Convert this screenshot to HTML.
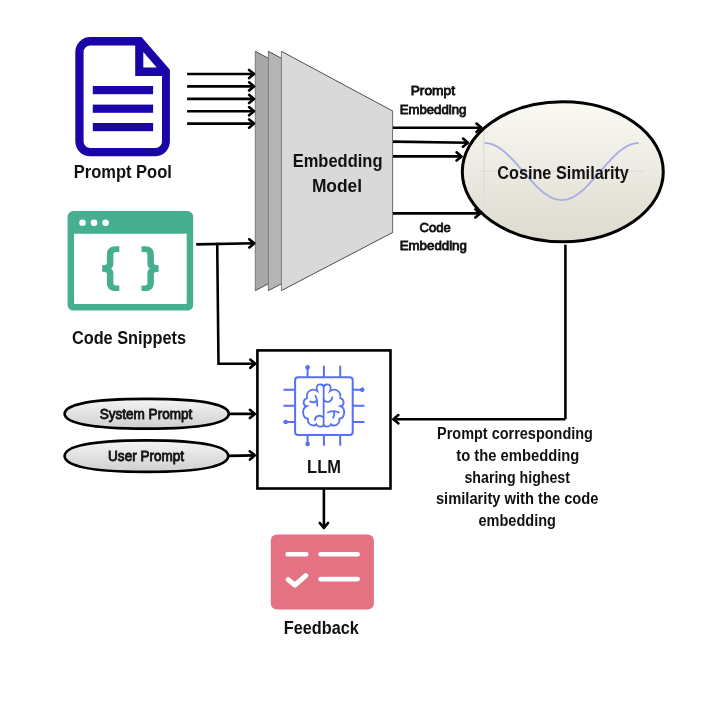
<!DOCTYPE html>
<html><head><meta charset="utf-8">
<style>
html,body{margin:0;padding:0;background:#fff;width:705px;height:721px;overflow:hidden}
svg{display:block;will-change:transform}
text{font-family:"Liberation Sans",sans-serif;font-weight:bold;fill:#111}
text.r{font-weight:normal;stroke:#111;stroke-width:0.85px}
</style></head><body>
<svg width="705" height="721" viewBox="0 0 705 721">
<defs>
<linearGradient id="ell" x1="0" y1="0" x2="0" y2="1">
<stop offset="0" stop-color="#faf9f3"/><stop offset="1" stop-color="#dddacf"/>
</linearGradient>
<linearGradient id="pill" x1="0" y1="0" x2="0" y2="1">
<stop offset="0" stop-color="#f4f4f4"/><stop offset="1" stop-color="#cfcfcf"/>
</linearGradient>
<clipPath id="ellclip"><ellipse cx="562.8" cy="171.75" rx="100.5" ry="70"/></clipPath>
<path id="brace" d="M119.3 246.2 L115.5 246.2 C110 246.2 106.9 249.2 106.9 254.5 L106.9 262.8 C106.9 264.6 105.6 265.3 102.2 265.3 L102.2 271.8 C105.6 271.8 106.9 272.5 106.9 274.3 L106.9 282.8 C106.9 288.1 110 291.1 115.5 291.1 L119.3 291.1 L119.3 285.4 L116 285.4 C114.2 285.4 113.4 284.6 113.4 282.8 L113.4 273.8 C113.4 271 112.4 269.6 110.9 268.6 C112.4 267.6 113.4 266.2 113.4 263.4 L113.4 254.5 C113.4 252.7 114.2 251.9 116 251.9 L119.3 251.9 Z"/>
</defs>

<!-- Document icon -->
<path fill="#1a05a8" fill-rule="evenodd" d="
M75.3 52 A15 15 0 0 1 90.3 37 L141.5 37 L169.9 69.8 L169.9 141.3 A15 15 0 0 1 154.9 156.3 L90.3 156.3 A15 15 0 0 1 75.3 141.3 Z
M83.6 52.1 A6.5 6.5 0 0 1 90.1 45.6 L135.2 45.6 L135.2 76 L162 76 L162 141.5 A6.5 6.5 0 0 1 155.5 148 L90.1 148 A6.5 6.5 0 0 1 83.6 141.5 Z
M143.3 51.9 L143.3 67.4 L156.7 67.4 Z"/>
<rect x="92.8" y="86" width="60.3" height="8.2" fill="#1a05a8"/>
<rect x="92.8" y="104.6" width="60.3" height="8.2" fill="#1a05a8"/>
<rect x="92.8" y="123" width="60.3" height="8.2" fill="#1a05a8"/>

<!-- arrows from doc -->

<!-- Embedding model layers -->
<path fill="#a8a8a8" d="M255.3 51.3 L366.9 111.2 L366.9 232.3 L255.3 290.6 Z"/>
<path fill="none" stroke="#7a7a7a" stroke-width="1" d="M255.3 51.3 V290.6"/>
<path fill="none" stroke="#3c3c3c" stroke-width="0.9" d="M255.3 51.3 L366.9 111.2 M255.3 290.6 L366.9 232.3"/>
<path fill="#b5b5b5" d="M268.4 51.3 L380 111.2 L380 232.3 L268.4 290.6 Z"/>
<path fill="none" stroke="#7a7a7a" stroke-width="1" d="M268.4 51.3 V290.6"/>
<path fill="none" stroke="#3c3c3c" stroke-width="0.9" d="M268.4 51.3 L380 111.2 M268.4 290.6 L380 232.3"/>
<path fill="#d9d9d9" d="M281.4 51.3 L393 111.2 L393 232.3 L281.4 290.6 Z"/>
<path fill="none" stroke="#7a7a7a" stroke-width="1" d="M281.4 51.3 V290.6"/>
<path fill="none" stroke="#3c3c3c" stroke-width="0.9" d="M281.4 51.3 L393 111.2 M281.4 290.6 L393 232.3"/>
<path fill="none" stroke="#6a6a6a" stroke-width="1" d="M392.6 111.2 V232.3"/>


<!-- Cosine similarity ellipse -->
<ellipse cx="562.8" cy="171.75" rx="100.5" ry="70" fill="url(#ell)"/>
<g stroke="#dcdad3" stroke-width="1" fill="none" clip-path="url(#ellclip)">
<path d="M483.8 100V245 M478.4 171.3H645"/>
</g>
<polyline points="484.70,143.05 486.62,143.14 488.55,143.40 490.47,143.84 492.40,144.44 494.32,145.22 496.25,146.16 498.18,147.25 500.10,148.49 502.02,149.88 503.95,151.40 505.88,153.04 507.80,154.80 509.73,156.66 511.65,158.61 513.58,160.64 515.50,162.74 517.42,164.90 519.35,167.09 521.27,169.31 523.20,171.55 525.12,173.79 527.05,176.01 528.98,178.20 530.90,180.36 532.83,182.46 534.75,184.49 536.67,186.44 538.60,188.30 540.52,190.06 542.45,191.70 544.38,193.22 546.30,194.61 548.23,195.85 550.15,196.94 552.08,197.88 554.00,198.66 555.92,199.26 557.85,199.70 559.77,199.96 561.70,200.05 563.62,199.96 565.55,199.70 567.48,199.26 569.40,198.66 571.33,197.88 573.25,196.94 575.18,195.85 577.10,194.61 579.02,193.22 580.95,191.70 582.88,190.06 584.80,188.30 586.73,186.44 588.65,184.49 590.58,182.46 592.50,180.36 594.43,178.20 596.35,176.01 598.28,173.79 600.20,171.55 602.12,169.31 604.05,167.09 605.98,164.90 607.90,162.74 609.83,160.64 611.75,158.61 613.68,156.66 615.60,154.80 617.53,153.04 619.45,151.40 621.38,149.88 623.30,148.49 625.23,147.25 627.15,146.16 629.08,145.22 631.00,144.44 632.93,143.84 634.85,143.40 636.78,143.14 638.70,143.05" stroke="#a7abe6" stroke-width="1.8" fill="none"/>
<ellipse cx="562.8" cy="171.75" rx="100.5" ry="70" fill="none" stroke="#000" stroke-width="3"/>

<!-- Code snippets icon -->
<path fill="#45af8f" fill-rule="evenodd" d="M73.3 211.1 H187.5 A5.7 5.7 0 0 1 193.2 216.8 V304.9 A5.7 5.7 0 0 1 187.5 310.6 H73.3 A5.7 5.7 0 0 1 67.6 304.9 V216.8 A5.7 5.7 0 0 1 73.3 211.1 Z M74.1 233.8 V303 A1 1 0 0 0 75.1 304 H185.7 A1 1 0 0 0 186.7 303 V233.8 Z"/>
<g fill="#fff">
<circle cx="82.5" cy="222.7" r="3.3"/><circle cx="94" cy="222.7" r="3.3"/><circle cx="105.6" cy="222.7" r="3.3"/>
</g>
<g fill="#45af8f">
<use href="#brace"/>
<use href="#brace" transform="translate(260.8,0) scale(-1,1)"/>
</g>


<path d="M217.2 242.8L218.5 363.7H220" stroke="#000" stroke-width="2.6" fill="none"/>
<!-- LLM box -->
<rect x="257.4" y="350.4" width="133.1" height="138.1" fill="#fff" stroke="#000" stroke-width="2.6"/>
<g stroke="#5570f5" stroke-width="2" fill="none" stroke-linecap="butt">
<rect x="295.1" y="377.3" width="57.6" height="57.7" rx="3"/>
<path d="M307.6 367.4V377.3 M323.9 365.7V377.3 M340.2 365.7V377.3 M307.6 434.3V444 M323.9 434.3V445.8 M340.2 434.3V445.8 M283.5 389.8H295.1 M283.5 405.8H295.1 M285.6 422H295.1 M352.7 389.8H362.2 M352.7 405.8H364.4 M352.7 422H364.4"/>
</g>
<g fill="#5570f5">
<circle cx="307.6" cy="367.4" r="2.3"/><circle cx="307.6" cy="444" r="2.3"/><circle cx="285.6" cy="422" r="2.3"/><circle cx="362.2" cy="389.8" r="2.3"/>
</g>
<!-- brain -->
<g stroke="#5570f5" stroke-width="1.8" fill="none" stroke-linecap="round">
<path d="M 323.66 387.37 C 323.66 384.42 318.50 383.10 317.03 386.05 C 316.44 387.37 316.58 389.44 317.32 391.06 C 312.75 388.11 305.96 390.32 307.00 398.07 C 302.57 399.54 302.57 405.44 306.85 406.18 C 301.10 408.76 302.57 418.35 307.96 418.72 C 306.85 424.25 313.49 427.20 316.44 424.25 C 318.06 427.79 323.66 427.20 323.66 424.25 M 323.66 387.37 C 323.66 384.42 328.83 383.10 330.30 386.05 C 330.89 387.37 330.74 389.44 330.01 391.06 C 334.58 388.11 341.36 390.32 340.33 398.07 C 344.76 399.54 344.76 405.44 340.48 406.18 C 346.23 408.76 344.76 418.35 339.37 418.72 C 340.48 424.25 333.84 427.20 330.89 424.25 C 329.27 427.79 323.66 427.20 323.66 424.25 M 315.33 395.86 C 317.32 397.70 317.03 402.12 317.32 405.81 M 310.17 401.39 C 312.01 402.49 314.96 402.49 316.58 401.02 M 315.11 420.19 C 314.59 416.14 319.39 414.29 323.07 417.24 M 324.18 399.91 C 326.02 402.86 331.19 402.86 332.29 397.33 M 327.87 412.45 C 330.45 410.60 336.35 410.60 338.93 412.45 M 334.14 411.86 C 334.50 413.92 334.14 416.14 333.25 417.76 M 323.66 387.37 L 323.66 424.25"/>
</g>

<!-- prompt pills -->
<path d="M146.70 398.95C212.34 398.95 228.75 406.38 228.75 413.80C228.75 421.23 212.34 428.65 146.70 428.65C81.06 428.65 64.65 421.23 64.65 413.80C64.65 406.38 81.06 398.95 146.70 398.95Z" fill="url(#pill)" stroke="#000" stroke-width="2.7"/><path d="M146.45 440.30C211.89 440.30 228.25 448.20 228.25 456.10C228.25 464.00 211.89 471.90 146.45 471.90C81.01 471.90 64.65 464.00 64.65 456.10C64.65 448.20 81.01 440.30 146.45 440.30Z" fill="url(#pill)" stroke="#000" stroke-width="2.7"/>

<!-- return line -->
<path d="M565.4 244.7V419.2" stroke="#000" stroke-width="2.6" fill="none"/>


<!-- Feedback icon -->
<rect x="270.8" y="534.5" width="103.1" height="75.1" rx="6" fill="#e57282"/>
<g stroke="#fff" stroke-width="4.6" stroke-linecap="round" stroke-linejoin="round" fill="none">
<path d="M287.6 554.2H306.3 M320.5 554.3H357.6 M320.5 579.1H357.6"/>
<path stroke-width="5" d="M288.2 579.6L294.8 585.2L305.8 575.6"/>
</g>

<g stroke="#000" stroke-width="2.6" fill="none" stroke-linecap="round" stroke-linejoin="round"><path stroke-linecap="butt" d="M187.10 74.00L254.00 74.00 M187.10 86.40L254.00 86.40 M187.10 98.90L254.00 98.90 M187.10 111.20L254.00 111.20 M187.10 123.60L254.00 123.60 M393.00 127.70L481.40 127.70 M393.00 141.60L467.90 142.78 M393.00 156.40L461.50 156.40 M393.00 213.40L480.20 213.40 M196.20 244.40L254.20 243.22 M218.50 363.70L255.20 363.70 M229.50 413.90L254.80 413.90 M228.50 455.90L254.80 455.33 M565.40 419.20L393.40 419.20 M323.90 488.00L323.90 527.90"/><path d="M249.10 78.10L254.00 74.00L249.10 69.90 M249.10 90.50L254.00 86.40L249.10 82.30 M249.10 103.00L254.00 98.90L249.10 94.80 M249.10 115.30L254.00 111.20L249.10 107.10 M249.10 127.70L254.00 123.60L249.10 119.50 M476.50 131.80L481.40 127.70L476.50 123.60 M462.94 146.80L467.90 142.78L463.07 138.60 M456.60 160.50L461.50 156.40L456.60 152.30 M475.30 217.50L480.20 213.40L475.30 209.30 M249.38 247.42L254.20 243.22L249.22 239.22 M250.30 367.80L255.20 363.70L250.30 359.60 M249.90 418.00L254.80 413.90L249.90 409.80 M249.99 459.53L254.80 455.33L249.81 451.33 M398.30 415.10L393.40 419.20L398.30 423.30 M319.80 523.00L323.90 527.90L328.00 523.00"/></g>
<text id="t_pp" x="73.70" y="177.80" font-size="17.80" textLength="98.20" lengthAdjust="spacingAndGlyphs">Prompt Pool</text>
<text id="t_em1" x="292.70" y="167.00" font-size="18.00" textLength="89.80" lengthAdjust="spacingAndGlyphs">Embedding</text>
<text id="t_mod" x="311.90" y="192.20" font-size="18.00" textLength="50.20" lengthAdjust="spacingAndGlyphs">Model</text>
<text id="t_pe1" class="r" x="410.70" y="95.00" font-size="13.40" textLength="44.40" lengthAdjust="spacingAndGlyphs">Prompt</text>
<text id="t_pe2" class="r" x="399.70" y="113.60" font-size="13.40" textLength="66.60" lengthAdjust="spacingAndGlyphs">Embedding</text>
<text id="t_ce1" class="r" x="419.50" y="231.70" font-size="13.40" textLength="31.20" lengthAdjust="spacingAndGlyphs">Code</text>
<text id="t_ce2" class="r" x="399.70" y="250.10" font-size="13.40" textLength="67.20" lengthAdjust="spacingAndGlyphs">Embedding</text>
<text id="t_cos" x="497.30" y="179.10" font-size="17.80" textLength="131.60" lengthAdjust="spacingAndGlyphs">Cosine Similarity</text>
<text id="t_cs" x="71.90" y="343.60" font-size="18.30" textLength="114.20" lengthAdjust="spacingAndGlyphs">Code Snippets</text>
<text id="t_sp" class="r" x="99.70" y="418.60" font-size="14.60" textLength="92.60" lengthAdjust="spacingAndGlyphs">System Prompt</text>
<text id="t_up" class="r" x="108.10" y="461.30" font-size="14.60" textLength="76.00" lengthAdjust="spacingAndGlyphs">User Prompt</text>
<text id="t_llm" x="307.10" y="472.60" font-size="18.00" textLength="33.80" lengthAdjust="spacingAndGlyphs">LLM</text>
<text id="t_r1" x="437.10" y="438.90" font-size="16.00" textLength="155.80" lengthAdjust="spacingAndGlyphs">Prompt corresponding</text>
<text id="t_r2" x="456.30" y="460.80" font-size="16.00" textLength="123.00" lengthAdjust="spacingAndGlyphs">to the embedding</text>
<text id="t_r3" x="464.50" y="482.70" font-size="16.00" textLength="105.40" lengthAdjust="spacingAndGlyphs">sharing highest</text>
<text id="t_r4" x="435.90" y="504.00" font-size="16.00" textLength="162.60" lengthAdjust="spacingAndGlyphs">similarity with the code</text>
<text id="t_r5" x="478.50" y="526.20" font-size="16.00" textLength="77.40" lengthAdjust="spacingAndGlyphs">embedding</text>
<text id="t_fb" x="283.70" y="633.90" font-size="18.00" textLength="75.20" lengthAdjust="spacingAndGlyphs">Feedback</text>

</svg>
</body></html>
